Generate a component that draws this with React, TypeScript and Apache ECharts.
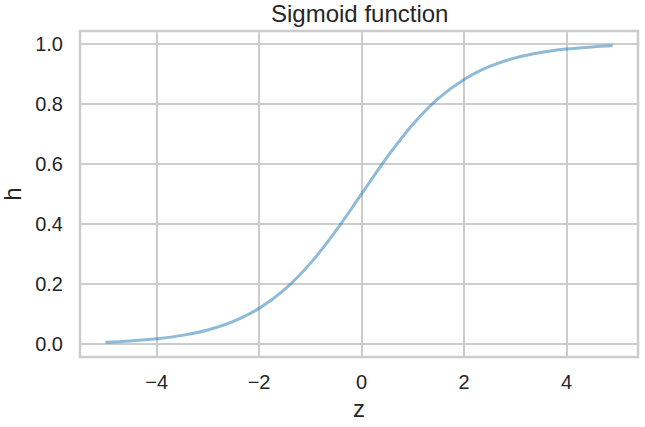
import React, { useEffect, useRef } from "react";
import * as echarts from "echarts";

const zValues = [-5, -4.5, -4, -3.5, -3, -2.5, -2, -1.5, -1, -0.5, 0, 0.5, 1, 1.5, 2, 2.5, 3, 3.5, 4, 4.5, 4.9];
const hValues = [0.0067, 0.011, 0.018, 0.0293, 0.0474, 0.0759, 0.1192, 0.1824, 0.2689, 0.3775, 0.5, 0.6225, 0.7311, 0.8176, 0.8808, 0.9241, 0.9526, 0.9707, 0.982, 0.989, 0.9926];
const titleText = "Sigmoid function";
const xName = "z";
const yName = "h";

export default function App() {
  const ref = useRef<HTMLDivElement>(null);
  useEffect(() => {
    if (!ref.current) return;
    const chart = echarts.init(ref.current, undefined, { renderer: "svg" });
    const font = "Liberation Sans, Arial, sans-serif";
    const grey = "#cccccc";
    const textColor = "#262626";
    chart.setOption({
      animation: false,
      backgroundColor: "#ffffff",
      title: {
        text: titleText,
        left: 271,
        top: 1,
        padding: 0,
        textStyle: { fontFamily: font, fontSize: 24, fontWeight: "normal", color: textColor },
      },
      grid: {
        left: 80,
        right: 7,
        top: 31,
        bottom: 70,
        show: true,
        borderColor: grey,
        borderWidth: 2.5,
        containLabel: false,
        outerBoundsMode: "none",
      },
      xAxis: {
        type: "value",
        min: -5.495,
        max: 5.395,
        minInterval: 2,
        maxInterval: 2,
        name: xName,
        nameLocation: "middle",
        nameGap: 37,
        nameTextStyle: { fontFamily: font, fontSize: 24, color: textColor },
        axisLine: { show: false },
        axisTick: { show: false },
        axisLabel: {
          showMinLabel: false,
          showMaxLabel: false,
          margin: 15,
          fontFamily: font,
          fontSize: 20,
          color: textColor,
          formatter: (v: number) => (v < 0 ? "\u2212" + Math.abs(v) : String(v)),
        },
        splitLine: { show: true, lineStyle: { color: grey, width: 2 } },
      },
      yAxis: {
        type: "value",
        min: -0.0426,
        max: 1.0419,
        minInterval: 0.2,
        maxInterval: 0.2,
        name: yName,
        nameLocation: "middle",
        nameGap: 52,
        nameTextStyle: { fontFamily: font, fontSize: 24, color: textColor },
        axisLine: { show: false },
        axisTick: { show: false },
        axisLabel: {
          showMinLabel: false,
          showMaxLabel: false,
          margin: 17,
          fontFamily: font,
          fontSize: 20,
          color: textColor,
          formatter: (v: number) => v.toFixed(1),
        },
        splitLine: { show: true, lineStyle: { color: grey, width: 2 } },
      },
      series: [
        {
          type: "line",
          data: zValues.map((z, i) => [z, hValues[i]]),
          smooth: 0.4,
          showSymbol: false,
          lineStyle: { color: "rgba(31,119,180,0.5)", width: 3 },
          itemStyle: { color: "rgba(31,119,180,0.5)" },
        },
      ],
    });
    return () => chart.dispose();
  }, []);
  return (
    <div
      ref={ref}
      style={{ position: "absolute", left: 0, top: 0, width: 645, height: 427 }}
    />
  );
}
